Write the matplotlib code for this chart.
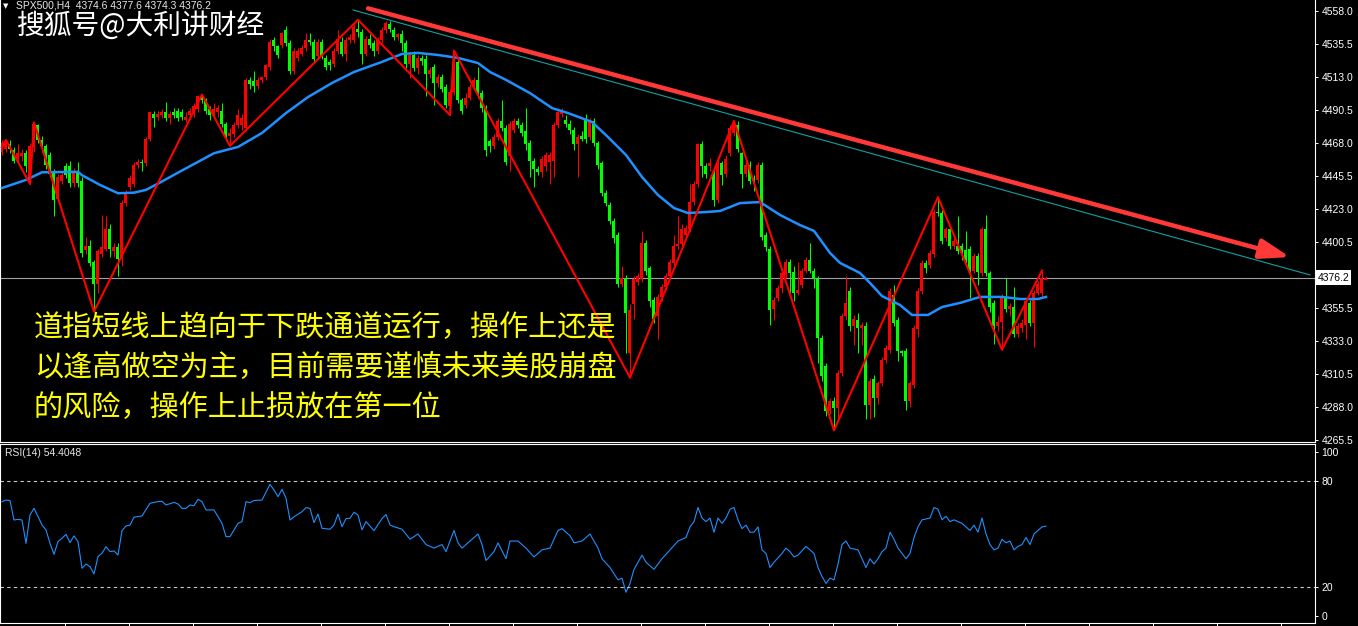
import matplotlib.pyplot as plt
from matplotlib.transforms import blended_transform_factory
import numpy as np

# SPX500 H4 candles, one per bar (prices)
opens = [
    4462, 4464, 4467, 4463, 4457, 4459, 4461, 4442, 4465, 4480,
    4470, 4466, 4460, 4449, 4430, 4442, 4452, 4452, 4441, 4449,
    4442, 4395, 4398, 4387, 4372, 4392, 4396, 4409, 4394, 4397,
    4389, 4427, 4438, 4440, 4453, 4455, 4454, 4471, 4488, 4486,
    4487, 4489, 4485, 4489, 4490, 4489, 4484, 4487, 4488, 4491,
    4500, 4497, 4491, 4487, 4489, 4490, 4481, 4473, 4474, 4480,
    4480, 4478, 4511, 4510, 4507, 4511, 4513, 4520, 4538, 4534,
    4535, 4545, 4536, 4517, 4526, 4529, 4533, 4538, 4537, 4527,
    4537, 4526, 4523, 4522, 4531, 4537, 4529, 4538, 4538, 4546,
    4544, 4529, 4539, 4536, 4531, 4538, 4545, 4549, 4545, 4540,
    4542, 4536, 4522, 4528, 4519, 4526, 4525, 4515, 4520, 4509,
    4513, 4506, 4493, 4503, 4523, 4497, 4494, 4499, 4506, 4511,
    4502, 4492, 4469, 4466, 4472, 4483, 4478, 4459, 4477, 4483,
    4480, 4476, 4468, 4456, 4450, 4448, 4452, 4455, 4456, 4480,
    4488, 4484, 4481, 4477, 4467, 4473, 4484, 4472, 4483, 4468,
    4454, 4434, 4426, 4415, 4405, 4372, 4376, 4325, 4358, 4373,
    4375, 4400, 4383, 4361, 4350, 4363, 4370, 4377, 4386, 4398,
    4399, 4405, 4409, 4428, 4440, 4467, 4452, 4452, 4448, 4429,
    4454, 4447, 4461, 4475, 4480, 4461, 4447, 4453, 4444, 4443,
    4453, 4405, 4396, 4355, 4362, 4369, 4378, 4387, 4380, 4366,
    4371, 4381, 4388, 4381, 4375, 4335, 4316, 4285, 4292, 4287,
    4311, 4350, 4367, 4343, 4347, 4342, 4343, 4289, 4307, 4294,
    4304, 4320, 4327, 4364, 4347, 4326, 4326, 4292, 4303, 4341,
    4367, 4386, 4385, 4392, 4421, 4420, 4403, 4409, 4398, 4398,
    4398, 4395, 4396, 4381, 4391, 4379, 4409, 4379, 4359, 4343,
    4346, 4363, 4355, 4356, 4338, 4342, 4344, 4359, 4345, 4366,
    4366, 4374.6,
]
highs = [
    4470, 4470, 4470, 4465, 4467, 4464, 4463, 4468, 4482, 4481,
    4473, 4467, 4462, 4450, 4447, 4448, 4454, 4456, 4451, 4455,
    4445, 4404, 4402, 4388, 4396, 4419, 4418, 4413, 4400, 4400,
    4429, 4436, 4446, 4455, 4457, 4457, 4472, 4490, 4490, 4490,
    4491, 4496, 4490, 4492, 4492, 4491, 4489, 4492, 4495, 4501,
    4501, 4499, 4493, 4495, 4494, 4495, 4482, 4478, 4482, 4491,
    4488, 4512, 4513, 4517, 4513, 4514, 4522, 4539, 4540, 4535,
    4544, 4548, 4538, 4533, 4533, 4535, 4543, 4543, 4539, 4539,
    4539, 4528, 4525, 4533, 4545, 4540, 4540, 4542, 4549, 4552,
    4546, 4541, 4542, 4538, 4540, 4547, 4551, 4551, 4547, 4543,
    4545, 4538, 4530, 4531, 4528, 4528, 4528, 4520, 4522, 4515,
    4515, 4508, 4505, 4531, 4526, 4499, 4502, 4508, 4513, 4520,
    4504, 4494, 4471, 4474, 4485, 4497, 4480, 4483, 4485, 4485,
    4482, 4492, 4470, 4458, 4452, 4459, 4462, 4462, 4482, 4491,
    4492, 4487, 4484, 4479, 4474, 4476, 4488, 4485, 4485, 4469,
    4456, 4436, 4428, 4417, 4407, 4384, 4378, 4358, 4377, 4379,
    4408, 4402, 4384, 4363, 4365, 4372, 4379, 4389, 4405, 4418,
    4413, 4412, 4440, 4442, 4468, 4469, 4454, 4458, 4450, 4456,
    4456, 4460, 4480, 4483, 4483, 4462, 4455, 4456, 4446, 4455,
    4455, 4407, 4398, 4363, 4371, 4381, 4389, 4389, 4384, 4387,
    4383, 4390, 4400, 4383, 4377, 4337, 4318, 4294, 4295, 4313,
    4352, 4377, 4370, 4351, 4352, 4346, 4346, 4308, 4310, 4306,
    4322, 4330, 4369, 4371, 4349, 4327, 4328, 4306, 4344, 4369,
    4388, 4388, 4395, 4423, 4431, 4422, 4411, 4411, 4403, 4418,
    4400, 4408, 4398, 4393, 4393, 4411, 4419, 4381, 4361, 4350,
    4365, 4376, 4359, 4370, 4345, 4348, 4362, 4361, 4368, 4374,
    4381, 4377.6,
]
lows = [
    4460, 4462, 4461, 4454, 4455, 4456, 4448, 4440, 4462, 4468,
    4462, 4450, 4445, 4418, 4428, 4440, 4444, 4438, 4438, 4438,
    4390, 4392, 4384, 4353, 4366, 4390, 4394, 4390, 4390, 4377,
    4384, 4425, 4436, 4438, 4451, 4449, 4452, 4469, 4479, 4484,
    4485, 4483, 4481, 4485, 4483, 4484, 4482, 4485, 4486, 4489,
    4495, 4488, 4484, 4485, 4486, 4479, 4469, 4466, 4472, 4478,
    4477, 4476, 4505, 4503, 4505, 4509, 4511, 4518, 4531, 4526,
    4533, 4534, 4515, 4515, 4524, 4527, 4531, 4535, 4523, 4525,
    4525, 4518, 4518, 4520, 4529, 4527, 4524, 4536, 4536, 4540,
    4522, 4527, 4533, 4527, 4529, 4536, 4543, 4544, 4538, 4538,
    4531, 4519, 4512, 4517, 4515, 4521, 4500, 4512, 4494, 4506,
    4503, 4492, 4487, 4501, 4495, 4488, 4492, 4497, 4504, 4499,
    4489, 4459, 4462, 4464, 4470, 4476, 4453, 4449, 4475, 4478,
    4473, 4463, 4445, 4438, 4446, 4445, 4449, 4440, 4445, 4478,
    4486, 4479, 4474, 4463, 4445, 4469, 4468, 4470, 4466, 4450,
    4432, 4425, 4413, 4400, 4370, 4370, 4325, 4308, 4348, 4371,
    4373, 4378, 4356, 4345, 4334, 4360, 4368, 4375, 4384, 4396,
    4397, 4403, 4407, 4426, 4438, 4445, 4444, 4449, 4425, 4427,
    4439, 4445, 4459, 4473, 4462, 4437, 4445, 4440, 4435, 4441,
    4402, 4394, 4344, 4347, 4360, 4366, 4376, 4362, 4360, 4364,
    4369, 4379, 4379, 4369, 4318, 4306, 4282, 4283, 4272, 4280,
    4309, 4347, 4340, 4330, 4325, 4330, 4280, 4280, 4281, 4290,
    4302, 4318, 4325, 4343, 4319, 4323, 4286, 4288, 4301, 4336,
    4365, 4379, 4383, 4390, 4418, 4399, 4401, 4396, 4396, 4392,
    4388, 4386, 4362, 4379, 4371, 4377, 4377, 4353, 4331, 4340,
    4327, 4353, 4350, 4336, 4336, 4339, 4334, 4343, 4329, 4364,
    4363, 4374.3,
]
closes = [
    4468, 4468, 4464, 4456, 4461, 4461, 4452, 4466, 4481, 4470,
    4466, 4453, 4447, 4429, 4445, 4446, 4446, 4441, 4449, 4441,
    4393, 4398, 4386, 4372, 4394, 4397, 4409, 4396, 4397, 4389,
    4427, 4433, 4444, 4453, 4455, 4454, 4471, 4489, 4485, 4488,
    4489, 4485, 4488, 4487, 4485, 4486, 4486, 4490, 4493, 4500,
    4497, 4490, 4487, 4491, 4492, 4481, 4472, 4475, 4480, 4487,
    4485, 4511, 4508, 4507, 4511, 4513, 4521, 4537, 4534, 4528,
    4543, 4536, 4517, 4531, 4531, 4533, 4538, 4537, 4525, 4537,
    4527, 4520, 4521, 4531, 4539, 4529, 4538, 4540, 4547, 4544,
    4529, 4539, 4535, 4531, 4538, 4545, 4550, 4546, 4540, 4542,
    4536, 4522, 4528, 4519, 4526, 4524, 4515, 4518, 4509, 4513,
    4505, 4494, 4503, 4523, 4497, 4490, 4499, 4506, 4511, 4502,
    4492, 4463, 4466, 4472, 4483, 4478, 4455, 4481, 4483, 4480,
    4475, 4467, 4456, 4450, 4448, 4457, 4460, 4460, 4480, 4489,
    4490, 4481, 4477, 4467, 4472, 4471, 4471, 4483, 4468, 4453,
    4434, 4427, 4415, 4403, 4372, 4376, 4352, 4354, 4375, 4377,
    4400, 4381, 4360, 4348, 4363, 4370, 4377, 4387, 4398, 4399,
    4409, 4410, 4428, 4440, 4467, 4452, 4447, 4454, 4429, 4454,
    4446, 4457, 4478, 4481, 4464, 4447, 4453, 4442, 4442, 4453,
    4404, 4397, 4354, 4361, 4369, 4379, 4387, 4379, 4366, 4368,
    4381, 4388, 4381, 4375, 4335, 4309, 4285, 4292, 4287, 4311,
    4350, 4359, 4343, 4348, 4342, 4344, 4289, 4306, 4294, 4304,
    4320, 4328, 4367, 4345, 4326, 4325, 4292, 4304, 4342, 4367,
    4386, 4383, 4393, 4421, 4420, 4401, 4409, 4398, 4401, 4394,
    4394, 4388, 4381, 4391, 4380, 4409, 4379, 4356, 4343, 4346,
    4363, 4355, 4357, 4338, 4343, 4345, 4360, 4345, 4366, 4372,
    4376, 4376.2,
]

# blue moving average, read at bar positions
ma_idx = [0, 6, 10, 19, 20, 24.5, 29, 33, 36, 39.5, 44.5, 53, 59, 65, 71, 76.5,
          82.5, 88, 95, 100, 104, 109, 114, 119, 122, 126, 132, 137.5, 141.5,
          147.5, 151.5, 156, 160, 164, 168, 171.5, 176, 179.5, 184.5, 189.5,
          194.5, 199.5, 203, 207, 209.5, 214.5, 217, 220, 224.5, 227.5, 231.5,
          235, 239.5, 244.5, 250, 254.5, 259, 261]
ma_val = [4437.3, 4442.8, 4448.0, 4448.3, 4446.0, 4439.4, 4433.7, 4434.1, 4436.0,
          4441.0, 4448.5, 4461.0, 4465.3, 4474.8, 4488.4, 4499.3, 4508.9, 4516.4,
          4523.3, 4528.7, 4529.4, 4528.0, 4526.0, 4522.5, 4516.4, 4511.0, 4502.0,
          4491.8, 4488.4, 4482.3, 4472.0, 4459.8, 4444.8, 4432.5, 4423.6, 4420.2,
          4420.9, 4421.6, 4427.0, 4427.7, 4418.9, 4412.0, 4408.0, 4393.0, 4386.2,
          4379.3, 4372.5, 4363.6, 4357.5, 4350.7, 4350.7, 4356.1, 4358.9, 4363.0,
          4363.0, 4361.6, 4361.6, 4363.0]

# zigzag swing points
zig_idx = [0, 1, 7, 8, 23, 50, 57, 89, 112, 113, 157, 183, 208, 234, 250, 260]
zig_val = [4465, 4470, 4440, 4482, 4353, 4501, 4466, 4552, 4487, 4531, 4308,
           4483, 4272, 4431, 4327, 4381]

# hand drawn trend lines
arrow_idx = [91.5, 322]
arrow_val = [4559.8, 4390.2]
channel_idx = [87.75, 327]
channel_val = [4558.7, 4378.0]

# RSI(14)
rsi_idx = [0, 1, 2, 3, 4, 5, 6, 7, 8, 9, 10, 11, 12, 13, 14, 15, 16, 17, 18, 19,
           20, 21, 22, 23, 24, 25, 26, 27, 28, 29, 30, 31, 32, 33, 35, 37, 39, 40,
           41, 43, 44, 45, 46, 47, 48, 49, 50, 51, 53, 55, 56, 57, 59, 60, 61, 62,
           63, 65, 67, 68, 69, 70, 71, 72, 73, 75, 76, 77, 78, 79, 80, 82, 83, 84,
           85, 86, 87, 88, 89, 90, 91, 93, 95, 96, 97, 98, 100, 102, 104, 106, 108,
           110, 111, 113, 114, 115, 118, 119, 120, 121, 123, 124, 126, 127, 129,
           131, 133, 135, 137, 139, 140, 142, 143, 145, 147, 149, 150, 152, 154,
           155, 156, 157, 158, 160, 161, 163, 165, 167, 169, 171, 172, 173, 174,
           175, 176, 177, 178, 179, 180, 181, 182, 183, 184, 185, 186, 187, 188,
           189, 190, 191, 192, 193, 195, 196, 197, 198, 199, 201, 202, 203, 204,
           205, 206, 207, 208, 209, 210, 211, 212, 214, 216, 217, 218, 219, 220,
           221, 222, 223, 224, 226, 227, 228, 229, 230, 232, 233, 234, 235, 236,
           237, 238, 240, 241, 242, 243, 244, 245, 246, 247, 248, 249, 250, 251,
           252, 253, 254, 255, 256, 257, 258, 259, 260, 261]
rsi_val = [68.3, 69.2, 68.9, 57.9, 58.3, 57.9, 44.7, 60.8, 64.5, 59.8, 55.1, 52.3,
           44.7, 38.5, 45.7, 47.6, 49.8, 45.1, 48.9, 45.7, 30.6, 33.0, 31.5, 27.4,
           37.2, 39.1, 42.8, 40.0, 40.4, 38.1, 51.9, 54.5, 55.0, 59.5, 60.2, 67.4,
           68.3, 68.5, 66.4, 67.9, 67.0, 64.5, 64.5, 66.4, 66.0, 69.6, 68.3, 63.6,
           63.6, 56.0, 48.5, 48.5, 56.0, 57.0, 68.3, 67.7, 68.9, 69.2, 78.1, 74.9,
           71.1, 75.3, 70.2, 57.9, 59.8, 62.6, 64.9, 64.5, 56.4, 61.3, 53.2, 52.7,
           55.1, 61.3, 54.1, 58.7, 58.9, 62.3, 60.8, 52.3, 57.0, 51.9, 58.7, 61.0,
           55.1, 54.1, 52.7, 47, 50, 44, 42, 44, 40, 52, 45, 42, 48, 50, 44, 35, 40,
           45, 36, 46, 46, 42, 37, 41, 42, 52, 53, 49, 45, 46, 50, 42, 36, 31, 24,
           25, 17, 22, 30, 38, 34, 30, 36, 41, 46, 48, 54, 57, 65, 59, 57, 59, 51,
           59, 56, 59, 64, 65, 58, 53, 55, 51, 51, 54, 41, 39, 31, 34, 39, 42, 40,
           37, 38, 43, 41, 39, 31, 26, 22, 25, 24, 33, 44, 46, 42, 41, 31, 36, 33,
           36, 40, 42, 51, 47, 42, 36, 39, 48, 54, 58, 59, 65, 64, 58, 60, 57, 58,
           56, 54, 52, 55, 51, 59, 50, 44, 41, 42, 47, 45, 46, 41, 43, 44, 48, 44,
           50, 52, 54, 54.4]

price_ticks = [4558.0, 4535.5, 4513.0, 4490.5, 4468.0, 4445.5, 4423.0, 4400.5,
               4378.0, 4355.5, 4333.0, 4310.5, 4288.0, 4265.5]
rsi_tick_pos = [96.5, 80, 20, 3.5]
rsi_tick_labels = ['100', '80', '20', '0']
last_price = 4376.2

header = 'SPX500,H4  4374.6 4377.6 4374.3 4376.2'
rsi_label = 'RSI(14) 54.4048'
watermark = '搜狐号@大利讲财经'
comment_lines = ['道指短线上趋向于下跌通道运行，操作上还是',
                 '以逢高做空为主，目前需要谨慎未来美股崩盘',
                 '的风险，操作上止损放在第一位']

plt.rcParams['font.family'] = ['Noto Sans CJK SC', 'DejaVu Sans']

W, H = 1358, 626
fig = plt.figure(figsize=(W / 100, H / 100), dpi=100, facecolor='black')
ax = fig.add_axes([0, 1 - 441.5 / H, 1315 / W, 441.5 / H], facecolor='black')
rx = fig.add_axes([0, 1 - 622.5 / H, 1315 / W, 179 / H], facecolor='black')

xlim = (-0.5, 328.25)

# candles: red up, green down
o = np.array(opens)
c = np.array(closes)
x = np.arange(len(c))
cols = np.where(c >= o, '#ff0000', '#00ff00')
ax.vlines(x, lows, highs, colors=cols, linewidth=0.75, zorder=3)
ax.bar(x, np.maximum(np.abs(c - o), 0.7), bottom=np.minimum(o, c), width=0.75,
       color=cols, linewidth=0, zorder=4)

ax.axhline(last_price, color='#a0a0a8', lw=0.8, zorder=2)
ax.plot(ma_idx, ma_val, color='#1e90ff', lw=1.8, zorder=5)
ax.plot(zig_idx, zig_val, color='#ff0000', lw=1.5, zorder=6)
ax.plot(channel_idx, channel_val, color='#12a0a0', lw=0.8, zorder=5)
ax.annotate('', xy=(arrow_idx[1], arrow_val[1]), xytext=(arrow_idx[0], arrow_val[0]),
            arrowprops=dict(arrowstyle='-|>,head_length=1.8,head_width=0.6',
                            color='#ff3838', lw=3.2, shrinkA=0, shrinkB=0),
            zorder=6)

ax.set_xlim(*xlim)
ax.set_ylim(4264.4, 4565.5)
ax.set_xticks([])
ax.yaxis.tick_right()
ax.set_yticks(price_ticks)
# the tick next to the last price is covered by the price tag
ax.set_yticklabels(['' if abs(p - last_price) < 5 else f'{p:.1f}' for p in price_ticks])

# price tag on the axis
tr = blended_transform_factory(ax.transAxes, ax.transData)
ax.text(1.0018, last_price, f'{last_price:.1f}', transform=tr, ha='left', va='center',
        fontsize=7.5, family='Liberation Sans', color='black', clip_on=False, zorder=10,
        bbox=dict(boxstyle='square,pad=0.2', fc='white', ec='none'))

# RSI panel
rx.plot(rsi_idx, rsi_val, color='#1e90ff', lw=0.8)
for lvl in (80, 20):
    rx.axhline(lvl, color='#c8c8c8', lw=0.8, ls=(0, (3, 3)))
rx.set_xlim(*xlim)
rx.set_ylim(-0.1, 101.2)
rx.yaxis.tick_right()
rx.set_yticks(rsi_tick_pos)
rx.set_yticklabels(rsi_tick_labels)
rx.set_xticks(np.arange(15.75, 328, 16))
rx.set_xticklabels([])

for a in (ax, rx):
    for s in a.spines.values():
        s.set_color('white')
        s.set_linewidth(0.8)
    a.tick_params(colors='white', length=2.5, width=0.7, labelsize=7.5, pad=2)
    for lbl in a.get_yticklabels():
        lbl.set_fontfamily('Liberation Sans')
ax.spines['top'].set_visible(False)

# texts
fig.text(3 / W, 1 - 6 / H, '▼', color='white', fontsize=5, family='DejaVu Sans',
         ha='left', va='center')
fig.text(16 / W, 1 - 6 / H, header, color='#e6e6e6', fontsize=7.5,
         family='Liberation Sans', ha='left', va='center')
fig.text(5 / W, 1 - 453 / H, rsi_label, color='#e6e6e6', fontsize=7.5,
         family='Liberation Sans', ha='left', va='center')
fig.text(17 / W, 1 - 26 / H, watermark, color='white', fontsize=20,
         family=['Noto Sans CJK SC', 'DejaVu Sans'], ha='left', va='center')
for k, line in enumerate(comment_lines):
    fig.text(34 / W, 1 - (328 + 40 * k) / H, line, color='#ffff00', fontsize=21,
             family=['Noto Sans CJK SC', 'DejaVu Sans'], ha='left', va='center')

fig.savefig('out.png', dpi=100, facecolor='black')
